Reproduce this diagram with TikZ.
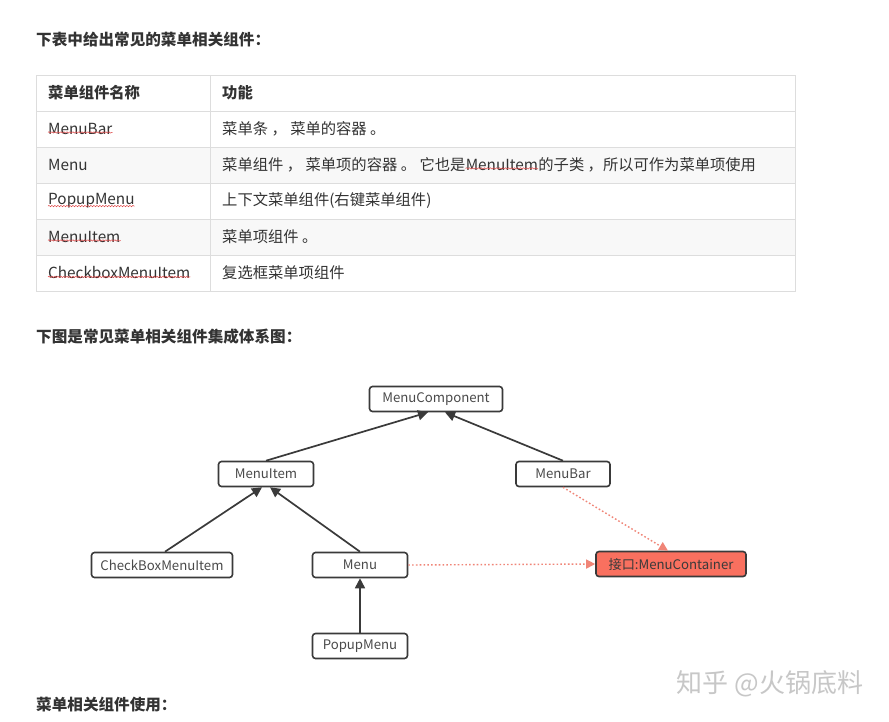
\documentclass[tikz,border=0pt]{standalone}
\usepackage{fontspec}
\setmainfont{Noto Sans CJK SC}
\usepackage{xcolor}
\usetikzlibrary{arrows.meta}
\usetikzlibrary{positioning}
\usetikzlibrary{decorations.pathmorphing}
\definecolor{txtgray}{HTML}{333333}
\definecolor{boxtxt}{HTML}{4A4A4A}
\definecolor{boxline}{HTML}{3A3A3A}
\definecolor{rule}{HTML}{DDDDDD}
\definecolor{rowgray}{HTML}{F8F8F8}
\definecolor{salmon}{HTML}{F9705F}
\definecolor{dotred}{HTML}{F08577}
\definecolor{wavyred}{HTML}{E04848}
\newcommand{\tabfont}{\fontsize{15.3}{17}\selectfont}
\newcommand{\headfont}{\fontsize{15.6}{17}\selectfont\bfseries}
\newcommand{\boxfont}{\fontsize{13.2}{15}\selectfont}
\newcommand{\wavy}[1]{\draw[wavyred,line width=0.5pt,decorate,decoration={snake,amplitude=0.7pt,segment length=3pt}] ([yshift=2.5pt]#1.south west) -- ([yshift=2.5pt]#1.south east);}

\begin{document}
\begin{tikzpicture}[x=1pt,y=-1pt,
  every node/.style={inner sep=0pt,text=txtgray},
  cell/.style={anchor=west,font=\tabfont},
  cls/.style={draw=boxline,line width=1.6pt,rounded corners=3pt,fill=white,
    minimum height=25pt,text=boxtxt,font=\boxfont},
  iface/.style={cls,fill=salmon,text=boxline},
  inherit/.style={draw=boxline,line width=1.7pt,-{Triangle[length=10pt,width=10pt]}},
  realize/.style={draw=dotred,line width=1.4pt,dash pattern=on 1.6pt off 2.2pt,
    -{Triangle[length=9pt,width=9pt,fill=dotred]}}]
\useasboundingbox[fill=white] (0,0) rectangle (889,721);

% headings
\node[anchor=west,font=\headfont] (h1) at (36,40) {下表中给出常见的菜单相关组件：};
\node[anchor=west,font=\headfont] (h2) at (36,337) {下图是常见菜单相关组件集成体系图：};
\node[anchor=west,font=\headfont] (h3) at (36,705) {菜单相关组件使用：};

% table
\fill[rowgray] (36,147) rectangle (795,183);
\fill[rowgray] (36,219) rectangle (795,255);
\draw[rule,line width=0.8pt] (36,75) rectangle (795,291);
\foreach \y in {111,147,183,219,255}
  \draw[rule,line width=0.8pt] (36,\y) -- (795,\y);
\draw[rule,line width=0.8pt] (210,75) -- (210,291);

\node[cell,font=\tabfont\bfseries] (th1) at (48,93) {菜单组件名称};
\node[cell,font=\tabfont\bfseries] (th2) at (222,93) {功能};

\node[cell] (n1) at (48,129) {MenuBar};
\node[cell] (n2) at (48,165) {Menu};
\node[cell] (n3) at (48,201) {PopupMenu};
\node[cell] (n4) at (48,237) {MenuItem};
\node[cell] (n5) at (48,273) {CheckboxMenuItem};
\wavy{n1}
\wavy{n3}
\wavy{n4}
\wavy{n5}

\node[cell] (f1) at (222,129) {菜单条 ，  菜单的容器 。};
\node[cell] (f2) at (222,165) {菜单组件 ，  菜单项的容器 。 它也是};
\node[cell,right=0pt of f2] (f2b) {MenuItem};
\node[cell,right=0pt of f2b] (f2c) {的子类 ，所以可作为菜单项使用};
\wavy{f2b}
\node[cell] (f3) at (222,201) {上下文菜单组件(右键菜单组件)};
\node[cell] (f4) at (222,237) {菜单项组件 。};
\node[cell] (f5) at (222,273) {复选框菜单项组件};

% class diagram
\node[cls,minimum width=133pt] (mc) at (436,399) {MenuComponent};
\node[cls,minimum width=95pt] (mi) at (266,474) {MenuItem};
\node[cls,minimum width=94pt] (mb) at (563,474) {MenuBar};
\node[cls,minimum width=141pt] (cb) at (162,565) {CheckBoxMenuItem};
\node[cls,minimum width=95pt] (me) at (360,565) {Menu};
\node[cls,minimum width=95pt] (pm) at (360,646) {PopupMenu};
\node[iface,minimum width=150pt] (mct) at (671,564) {接口:MenuContainer};

\draw[inherit] (mi.north) -- ([xshift=-8pt]mc.south);
\draw[inherit] (mb.north) -- ([xshift=9pt]mc.south);
\draw[inherit] ([xshift=3pt]cb.north) -- ([xshift=-4pt]mi.south);
\draw[inherit] (me.north) -- ([xshift=4pt]mi.south);
\draw[inherit] (pm.north) -- (me.south);
\draw[realize] (me.east) -- (mct.west);
\draw[realize] (mb.south) -- ([xshift=-3pt]mct.north);

% watermark
\node[text=black!22,font=\fontsize{26}{28}\selectfont] (wm) at (770,684) {知乎 @火锅底料};
\end{tikzpicture}
\end{document}
